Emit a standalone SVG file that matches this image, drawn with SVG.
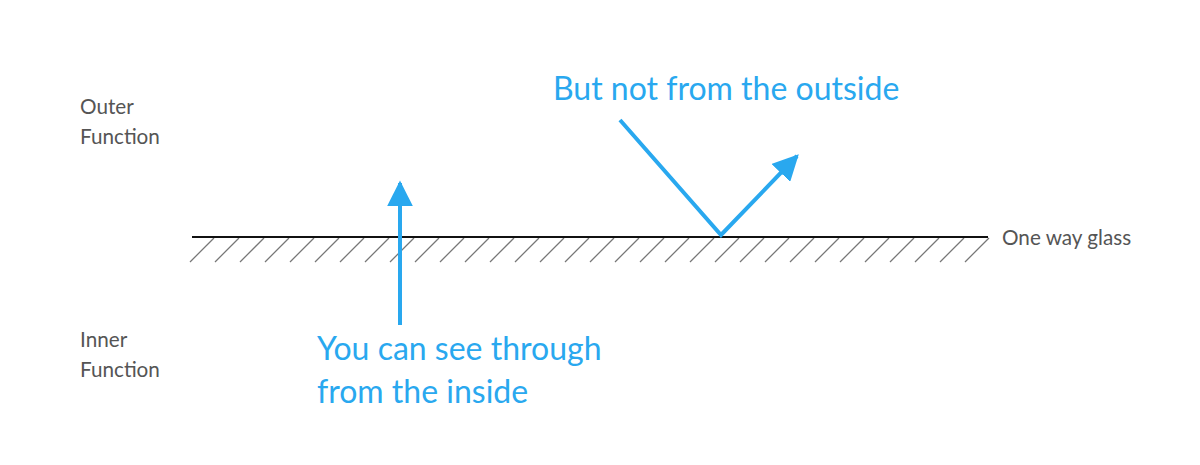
<svg xmlns="http://www.w3.org/2000/svg" width="1200" height="465" viewBox="0 0 1200 465">
<style>
.lbl{font-family:Lato,"Open Sans",sans-serif;font-size:20.7px;fill:#555}
.blue{font-family:Lato,"Open Sans",sans-serif;font-size:32px;fill:#29a8ef}
.hatch{stroke:#777;stroke-width:1.3}
.arr{stroke:#29a8ef;stroke-width:4;fill:none}
</style>
<defs>
<marker id="ah" viewBox="0 0 10 10" refX="9" refY="5" markerWidth="6.5" markerHeight="6.5" markerUnits="strokeWidth" orient="auto">
<path d="M0,0 L10,5 L0,10 z" fill="#29a8ef"/>
</marker>
</defs>
<rect width="1200" height="465" fill="#fff"/>
<g id="glass">
<g id="hatches">
<path class="hatch" d="M190,262l24,-24M215,262l24,-24M240,262l24,-24M265,262l24,-24M290,262l24,-24M315,262l24,-24M340,262l24,-24M365,262l24,-24M390,262l24,-24M415,262l24,-24M440,262l24,-24M465,262l24,-24M490,262l24,-24M515,262l24,-24M540,262l24,-24M565,262l24,-24M590,262l24,-24M615,262l24,-24M640,262l24,-24M665,262l24,-24M690,262l24,-24M715,262l24,-24M740,262l24,-24M765,262l24,-24M790,262l24,-24M815,262l24,-24M840,262l24,-24M865,262l24,-24M890,262l24,-24M915,262l24,-24M940,262l24,-24M965,262l24,-24"/>
</g>
<line x1="192" y1="237" x2="988" y2="237" stroke="#111" stroke-width="2"/>
<text class="lbl" x="1002" y="245">One way glass</text>
</g>
<g id="outer"><text class="lbl" x="80" y="114">Outer</text><text class="lbl" x="80" y="144">Function</text></g>
<g id="inner"><text class="lbl" x="80" y="347">Inner</text><text class="lbl" x="80" y="377">Function</text></g>
<g id="connectors">
<line class="arr" x1="400" y1="325" x2="400" y2="183" marker-end="url(#ah)"/>
<polyline class="arr" points="620,120 721,235 797,156" marker-end="url(#ah)"/>
</g>
<g id="notes">
<text class="blue" x="553" y="100">But not from the outside</text>
<text class="blue" x="317" y="360">You can see through</text>
<text class="blue" x="317" y="403">from the inside</text>
</g>
</svg>
